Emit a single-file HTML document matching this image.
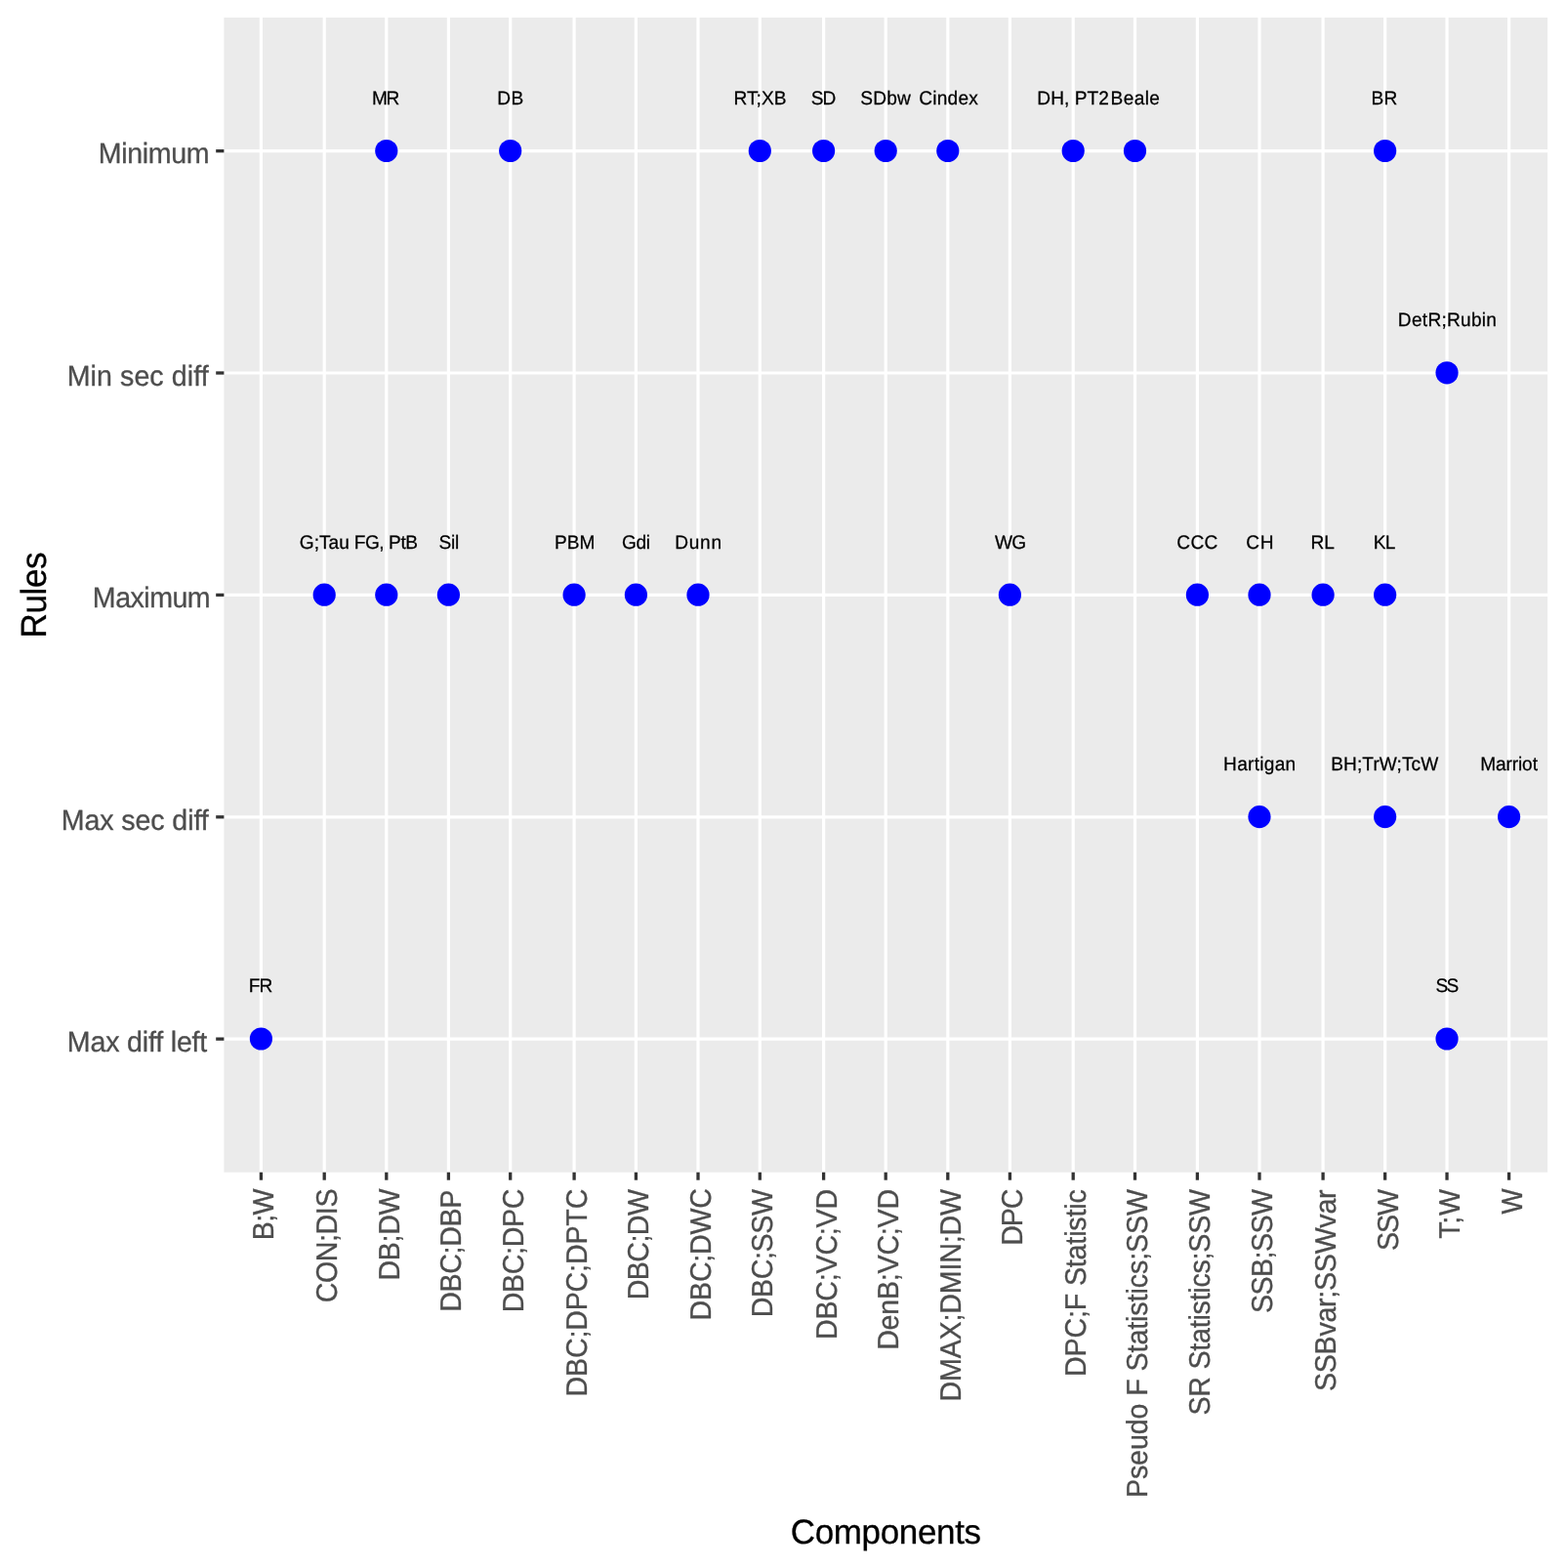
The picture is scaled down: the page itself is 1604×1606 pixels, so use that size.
<!DOCTYPE html>
<html lang="en"><head><meta charset="utf-8"><title>Rules vs Components</title>
<style>html,body{margin:0;padding:0;background:#fff}svg{display:block}text{font-family:"Liberation Sans",Arial,Helvetica,sans-serif;text-rendering:geometricPrecision}</style></head><body>
<svg width="1604" height="1606" viewBox="0 0 1604 1606">
<rect width="1604" height="1606" fill="#fff"/>
<rect x="229.4" y="18.0" width="1355.7" height="1182.7" fill="#EBEBEB"/>
<g stroke="#fff" stroke-width="3.2" fill="none">
<line x1="229.4" x2="1585.1" y1="154.65" y2="154.65"/>
<line x1="229.4" x2="1585.1" y1="382.0" y2="382.0"/>
<line x1="229.4" x2="1585.1" y1="609.4" y2="609.4"/>
<line x1="229.4" x2="1585.1" y1="836.8" y2="836.8"/>
<line x1="229.4" x2="1585.1" y1="1064.15" y2="1064.15"/>
<line x1="267.40" x2="267.40" y1="18.0" y2="1200.7"/>
<line x1="332.20" x2="332.20" y1="18.0" y2="1200.7"/>
<line x1="395.80" x2="395.80" y1="18.0" y2="1200.7"/>
<line x1="459.40" x2="459.40" y1="18.0" y2="1200.7"/>
<line x1="522.70" x2="522.70" y1="18.0" y2="1200.7"/>
<line x1="588.10" x2="588.10" y1="18.0" y2="1200.7"/>
<line x1="651.40" x2="651.40" y1="18.0" y2="1200.7"/>
<line x1="715.00" x2="715.00" y1="18.0" y2="1200.7"/>
<line x1="778.30" x2="778.30" y1="18.0" y2="1200.7"/>
<line x1="843.60" x2="843.60" y1="18.0" y2="1200.7"/>
<line x1="907.20" x2="907.20" y1="18.0" y2="1200.7"/>
<line x1="970.80" x2="970.80" y1="18.0" y2="1200.7"/>
<line x1="1034.40" x2="1034.40" y1="18.0" y2="1200.7"/>
<line x1="1099.20" x2="1099.20" y1="18.0" y2="1200.7"/>
<line x1="1162.50" x2="1162.50" y1="18.0" y2="1200.7"/>
<line x1="1226.40" x2="1226.40" y1="18.0" y2="1200.7"/>
<line x1="1290.00" x2="1290.00" y1="18.0" y2="1200.7"/>
<line x1="1355.10" x2="1355.10" y1="18.0" y2="1200.7"/>
<line x1="1418.65" x2="1418.65" y1="18.0" y2="1200.7"/>
<line x1="1482.05" x2="1482.05" y1="18.0" y2="1200.7"/>
<line x1="1545.60" x2="1545.60" y1="18.0" y2="1200.7"/>
</g>
<g stroke="#333" stroke-width="3.3" fill="none">
<line x1="221.2" x2="229.4" y1="154.65" y2="154.65"/>
<line x1="221.2" x2="229.4" y1="382.0" y2="382.0"/>
<line x1="221.2" x2="229.4" y1="609.4" y2="609.4"/>
<line x1="221.2" x2="229.4" y1="836.8" y2="836.8"/>
<line x1="221.2" x2="229.4" y1="1064.15" y2="1064.15"/>
<line x1="267.40" x2="267.40" y1="1200.7" y2="1208.7"/>
<line x1="332.20" x2="332.20" y1="1200.7" y2="1208.7"/>
<line x1="395.80" x2="395.80" y1="1200.7" y2="1208.7"/>
<line x1="459.40" x2="459.40" y1="1200.7" y2="1208.7"/>
<line x1="522.70" x2="522.70" y1="1200.7" y2="1208.7"/>
<line x1="588.10" x2="588.10" y1="1200.7" y2="1208.7"/>
<line x1="651.40" x2="651.40" y1="1200.7" y2="1208.7"/>
<line x1="715.00" x2="715.00" y1="1200.7" y2="1208.7"/>
<line x1="778.30" x2="778.30" y1="1200.7" y2="1208.7"/>
<line x1="843.60" x2="843.60" y1="1200.7" y2="1208.7"/>
<line x1="907.20" x2="907.20" y1="1200.7" y2="1208.7"/>
<line x1="970.80" x2="970.80" y1="1200.7" y2="1208.7"/>
<line x1="1034.40" x2="1034.40" y1="1200.7" y2="1208.7"/>
<line x1="1099.20" x2="1099.20" y1="1200.7" y2="1208.7"/>
<line x1="1162.50" x2="1162.50" y1="1200.7" y2="1208.7"/>
<line x1="1226.40" x2="1226.40" y1="1200.7" y2="1208.7"/>
<line x1="1290.00" x2="1290.00" y1="1200.7" y2="1208.7"/>
<line x1="1355.10" x2="1355.10" y1="1200.7" y2="1208.7"/>
<line x1="1418.65" x2="1418.65" y1="1200.7" y2="1208.7"/>
<line x1="1482.05" x2="1482.05" y1="1200.7" y2="1208.7"/>
<line x1="1545.60" x2="1545.60" y1="1200.7" y2="1208.7"/>
</g>
<g fill="#0000FF">
<circle cx="395.80" cy="154.5" r="11.6"/>
<circle cx="522.70" cy="154.5" r="11.6"/>
<circle cx="778.30" cy="154.5" r="11.6"/>
<circle cx="843.60" cy="154.5" r="11.6"/>
<circle cx="907.20" cy="154.5" r="11.6"/>
<circle cx="970.80" cy="154.5" r="11.6"/>
<circle cx="1099.20" cy="154.5" r="11.6"/>
<circle cx="1162.50" cy="154.5" r="11.6"/>
<circle cx="1418.65" cy="154.5" r="11.6"/>
<circle cx="1482.05" cy="381.8" r="11.6"/>
<circle cx="332.20" cy="609.2" r="11.6"/>
<circle cx="395.80" cy="609.2" r="11.6"/>
<circle cx="459.40" cy="609.2" r="11.6"/>
<circle cx="588.10" cy="609.2" r="11.6"/>
<circle cx="651.40" cy="609.2" r="11.6"/>
<circle cx="715.00" cy="609.2" r="11.6"/>
<circle cx="1034.40" cy="609.2" r="11.6"/>
<circle cx="1226.40" cy="609.2" r="11.6"/>
<circle cx="1290.00" cy="609.2" r="11.6"/>
<circle cx="1355.10" cy="609.2" r="11.6"/>
<circle cx="1418.65" cy="609.2" r="11.6"/>
<circle cx="1290.00" cy="836.6" r="11.6"/>
<circle cx="1418.65" cy="836.6" r="11.6"/>
<circle cx="1545.60" cy="836.6" r="11.6"/>
<circle cx="267.40" cy="1064.0" r="11.6"/>
<circle cx="1482.05" cy="1064.0" r="11.6"/>
</g>
<g font-size="19.1" fill="#000" stroke="#000" stroke-width="0.25" text-anchor="middle">
<text id="t1" transform="translate(395.09,106.9) scale(1,1.025)" textLength="28.40" lengthAdjust="spacing">MR</text>
<text id="t2" transform="translate(522.76,106.9) scale(1,1.025)" textLength="26.98" lengthAdjust="spacing">DB</text>
<text id="t3" transform="translate(778.51,106.9) scale(1,1.025)" textLength="54.07" lengthAdjust="spacing">RT;XB</text>
<text id="t4" transform="translate(843.53,106.9) scale(1,1.025)" textLength="25.53" lengthAdjust="spacing">SD</text>
<text id="t5" transform="translate(907.03,106.9) scale(1,1.025)" textLength="51.38" lengthAdjust="spacing">SDbw</text>
<text id="t6" transform="translate(971.52,106.9) scale(1,1.025)" textLength="60.73" lengthAdjust="spacing">Cindex</text>
<text id="t7" transform="translate(1099.06,106.9) scale(1,1.025)" textLength="73.50" lengthAdjust="spacing">DH, PT2</text>
<text id="t8" transform="translate(1162.73,106.9) scale(1,1.025)" textLength="50.54" lengthAdjust="spacing">Beale</text>
<text id="t9" transform="translate(1417.89,106.9) scale(1,1.025)" textLength="26.88" lengthAdjust="spacing">BR</text>
<text id="t10" transform="translate(1482.41,334.2) scale(1,1.025)" textLength="101.15" lengthAdjust="spacing">DetR;Rubin</text>
<text id="t11" transform="translate(332.32,561.6) scale(1,1.025)" textLength="51.25" lengthAdjust="spacing">G;Tau</text>
<text id="t12" transform="translate(395.36,561.6) scale(1,1.025)" textLength="65.25" lengthAdjust="spacing">FG, PtB</text>
<text id="t13" transform="translate(459.86,561.6) scale(1,1.025)" textLength="20.73" lengthAdjust="spacing">Sil</text>
<text id="t14" transform="translate(588.73,561.6) scale(1,1.025)" textLength="41.53" lengthAdjust="spacing">PBM</text>
<text id="t15" transform="translate(651.49,561.6) scale(1,1.025)" textLength="28.86" lengthAdjust="spacing">Gdi</text>
<text id="t16" transform="translate(715.11,561.6) scale(1,1.025)" textLength="47.99" lengthAdjust="spacing">Dunn</text>
<text id="t17" transform="translate(1035.01,561.6) scale(1,1.025)" textLength="32.03" lengthAdjust="spacing">WG</text>
<text id="t18" transform="translate(1226.35,561.6) scale(1,1.025)" textLength="42.06" lengthAdjust="spacing">CCC</text>
<text id="t19" transform="translate(1290.35,561.6) scale(1,1.025)" textLength="28.32" lengthAdjust="spacing">CH</text>
<text id="t20" transform="translate(1354.77,561.6) scale(1,1.025)" textLength="24.36" lengthAdjust="spacing">RL</text>
<text id="t21" transform="translate(1418.01,561.6) scale(1,1.025)" textLength="22.76" lengthAdjust="spacing">KL</text>
<text id="t22" transform="translate(1290.15,789.0) scale(1,1.025)" textLength="74.21" lengthAdjust="spacing">Hartigan</text>
<text id="t23" transform="translate(1418.26,789.0) scale(1,1.025)" textLength="109.93" lengthAdjust="spacing">BH;TrW;TcW</text>
<text id="t24" transform="translate(1545.57,789.0) scale(1,1.025)" textLength="58.76" lengthAdjust="spacing">Marriot</text>
<text id="t25" transform="translate(266.93,1016.4) scale(1,1.025)" textLength="24.60" lengthAdjust="spacing">FR</text>
<text id="t26" transform="translate(1482.38,1016.4) scale(1,1.025)" textLength="23.88" lengthAdjust="spacing">SS</text>
</g>
<g font-size="28.6" fill="#4D4D4D" stroke="#4D4D4D" stroke-width="0.3" text-anchor="end">
<text id="t27" transform="translate(214.55,167.3) scale(1,1.024)" textLength="113.79" lengthAdjust="spacing">Minimum</text>
<text id="t28" transform="translate(213.65,394.7) scale(1,1.024)" textLength="145.00" lengthAdjust="spacing">Min sec diff</text>
<text id="t29" transform="translate(215.65,622.1) scale(1,1.024)" textLength="120.82" lengthAdjust="spacing">Maximum</text>
<text id="t30" transform="translate(213.65,849.5) scale(1,1.024)" textLength="150.88" lengthAdjust="spacing">Max sec diff</text>
<text id="t31" transform="translate(212.30,1076.9) scale(1,1.024)" textLength="143.49" lengthAdjust="spacing">Max diff left</text>
<text id="t32" transform="translate(280.30,1217.50) rotate(-90) scale(1,1.055)" textLength="52.84" lengthAdjust="spacing">B;W</text>
<text id="t33" transform="translate(345.10,1217.50) rotate(-90) scale(1,1.055)" textLength="116.77" lengthAdjust="spacing">CON;DIS</text>
<text id="t34" transform="translate(408.70,1217.50) rotate(-90) scale(1,1.055)" textLength="93.97" lengthAdjust="spacing">DB;DW</text>
<text id="t35" transform="translate(472.30,1218.75) rotate(-90) scale(1,1.055)" textLength="124.92" lengthAdjust="spacing">DBC;DBP</text>
<text id="t36" transform="translate(535.60,1217.70) rotate(-90) scale(1,1.055)" textLength="126.54" lengthAdjust="spacing">DBC;DPC</text>
<text id="t37" transform="translate(601.00,1217.70) rotate(-90) scale(1,1.055)" textLength="212.84" lengthAdjust="spacing">DBC;DPC;DPTC</text>
<text id="t38" transform="translate(664.30,1218.00) rotate(-90) scale(1,1.055)" textLength="113.37" lengthAdjust="spacing">DBC;DW</text>
<text id="t39" transform="translate(727.90,1217.00) rotate(-90) scale(1,1.055)" textLength="135.46" lengthAdjust="spacing">DBC;DWC</text>
<text id="t40" transform="translate(791.20,1218.00) rotate(-90) scale(1,1.055)" textLength="131.26" lengthAdjust="spacing">DBC;SSW</text>
<text id="t41" transform="translate(856.50,1217.95) rotate(-90) scale(1,1.055)" textLength="154.00" lengthAdjust="spacing">DBC;VC;VD</text>
<text id="t42" transform="translate(920.10,1217.95) rotate(-90) scale(1,1.055)" textLength="164.91" lengthAdjust="spacing">DenB;VC;VD</text>
<text id="t43" transform="translate(983.70,1218.00) rotate(-90) scale(1,1.055)" textLength="217.53" lengthAdjust="spacing">DMAX;DMIN;DW</text>
<text id="t44" transform="translate(1047.30,1217.70) rotate(-90) scale(1,1.055)" textLength="58.01" lengthAdjust="spacing">DPC</text>
<text id="t45" transform="translate(1112.10,1218.20) rotate(-90) scale(1,1.055)" textLength="191.77" lengthAdjust="spacing">DPC;F Statistic</text>
<text id="t46" transform="translate(1175.40,1218.00) rotate(-90) scale(1,1.055)" textLength="316.10" lengthAdjust="spacing">Pseudo F Statistics;SSW</text>
<text id="t47" transform="translate(1239.30,1218.00) rotate(-90) scale(1,1.055)" textLength="231.47" lengthAdjust="spacing">SR Statistics;SSW</text>
<text id="t48" transform="translate(1302.90,1218.00) rotate(-90) scale(1,1.055)" textLength="127.09" lengthAdjust="spacing">SSB;SSW</text>
<text id="t49" transform="translate(1368.00,1218.45) rotate(-90) scale(1,1.055)" textLength="206.62" lengthAdjust="spacing">SSBvar;SSWvar</text>
<text id="t50" transform="translate(1431.55,1218.00) rotate(-90) scale(1,1.055)" textLength="62.91" lengthAdjust="spacing">SSW</text>
<text id="t51" transform="translate(1494.95,1218.00) rotate(-90) scale(1,1.055)" textLength="50.67" lengthAdjust="spacing">T;W</text>
<text id="t52" transform="translate(1558.50,1217.40) rotate(-90) scale(0.97,1.055)">W</text>
</g>
<g font-size="35" fill="#000" stroke="#000" stroke-width="0.3" text-anchor="middle">
<text id="t53" transform="translate(907.37,1580.6) scale(1,1.01)" textLength="195.34" lengthAdjust="spacing">Components</text>
<text id="t54" transform="translate(47.1,609.45) rotate(-90) scale(1,1.044)" textLength="87.96" lengthAdjust="spacing">Rules</text>
</g>
</svg></body></html>
